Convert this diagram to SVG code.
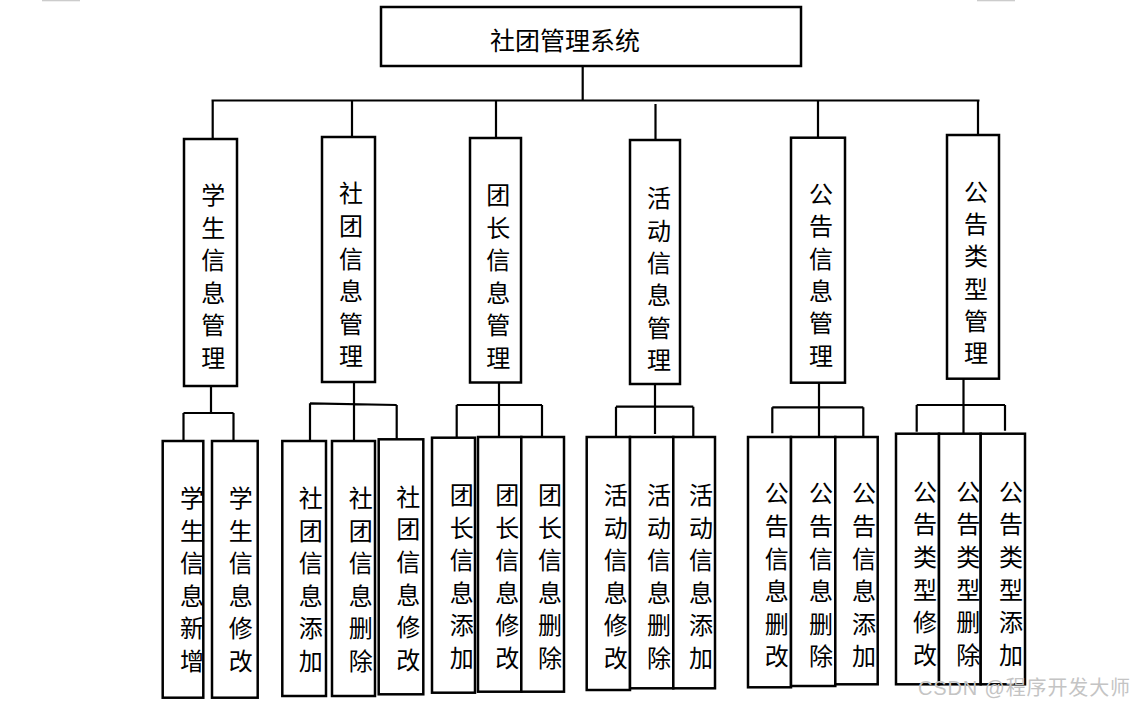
<svg xmlns="http://www.w3.org/2000/svg" width="1136" height="708" viewBox="0 0 1136 708">
<style>
.box{fill:#fff;stroke:#000;stroke-width:2.5}
.ln{fill:none;stroke:#000;stroke-width:2.2}
.t{font-family:"Noto Sans CJK SC","Noto Sans CJK JP",sans-serif;font-size:24px;fill:#000;text-anchor:middle}
.wm{font-family:"Liberation Sans","Noto Sans CJK SC",sans-serif;font-size:20px;fill:#c4c4c4}
</style>
<rect x="0" y="0" width="1136" height="708" fill="#fff"/>
<rect x="42" y="0" width="38" height="1.3" fill="#cccccc"/>
<rect x="977" y="0" width="38" height="1.3" fill="#cccccc"/>
<g id="connectors">
<path class="ln" d="M582.7 66 V101 M211.5 100.5 H979.5 M212.7 100.5 V139 M352 100.5 V137 M496 100.5 V138 M655.5 104 V140 M818 100.5 V138 M978 100.5 V135"/>
<path class="ln" d="M211 386 V413 M183.5 413 H233.5 M183.5 413 V441 M233.5 413 V441"/>
<path class="ln" d="M354 382 V441 M310 403.3 L396.7 405 M310 403.3 V441 M396.7 405 V439.3"/>
<path class="ln" d="M499 382 V437 M456.7 405 H542 M456.7 405 V437.7 M542 405 V437"/>
<path class="ln" d="M655 384 V434 M616 406.7 H693.3 M616 406.7 V437 M693.3 406.7 V437"/>
<path class="ln" d="M819 382.5 V437 M772.3 407.3 H863.3 M772.3 407.3 V433.3 M863.3 407.3 V437"/>
<path class="ln" d="M963.5 379 V434 M916.7 405 H1005 M916.7 405 V431.7 M1005 405 V430.7"/>
</g>
<g id="root"><rect class="box" x="381" y="7" width="420" height="59"/><text class="t" x="565" y="50" style="font-size:25px">社团管理系统</text></g>
<g id="m1"><rect class="box" x="184" y="139" width="53" height="247"/><text class="t" x="213.3"><tspan x="213.3" y="204">学</tspan><tspan x="213.3" dy="32.6">生</tspan><tspan x="213.3" dy="32.6">信</tspan><tspan x="213.3" dy="32.6">息</tspan><tspan x="213.3" dy="32.6">管</tspan><tspan x="213.3" dy="32.6">理</tspan></text></g>
<g id="m2"><rect class="box" x="322" y="137" width="53" height="245"/><text class="t"><tspan x="351" y="202.3">社</tspan><tspan x="351" dy="32.6">团</tspan><tspan x="351" dy="32.6">信</tspan><tspan x="351" dy="32.6">息</tspan><tspan x="351" dy="32.6">管</tspan><tspan x="351" dy="32.6">理</tspan></text></g>
<g id="m3"><rect class="box" x="470" y="138" width="51" height="244.5"/><text class="t"><tspan x="498.3" y="204">团</tspan><tspan x="498.3" dy="32.6">长</tspan><tspan x="498.3" dy="32.6">信</tspan><tspan x="498.3" dy="32.6">息</tspan><tspan x="498.3" dy="32.6">管</tspan><tspan x="498.3" dy="32.6">理</tspan></text></g>
<g id="m4"><rect class="box" x="630" y="140" width="50" height="244"/><text class="t"><tspan x="659" y="207.3">活</tspan><tspan x="659" dy="32.3">动</tspan><tspan x="659" dy="32.3">信</tspan><tspan x="659" dy="32.3">息</tspan><tspan x="659" dy="32.3">管</tspan><tspan x="659" dy="32.3">理</tspan></text></g>
<g id="m5"><rect class="box" x="791" y="137.7" width="54" height="245"/><text class="t"><tspan x="821" y="203">公</tspan><tspan x="821" dy="32.3">告</tspan><tspan x="821" dy="32.3">信</tspan><tspan x="821" dy="32.3">息</tspan><tspan x="821" dy="32.3">管</tspan><tspan x="821" dy="32.3">理</tspan></text></g>
<g id="m6"><rect class="box" x="947" y="135" width="52" height="243.7"/><text class="t"><tspan x="976" y="200.7">公</tspan><tspan x="976" dy="32.3">告</tspan><tspan x="976" dy="32.3">类</tspan><tspan x="976" dy="32.3">型</tspan><tspan x="976" dy="32.3">管</tspan><tspan x="976" dy="32.3">理</tspan></text></g>
<g id="a1"><rect class="box" x="162.7" y="441" width="40.6" height="256.7"/><text class="t"><tspan x="192" y="507">学</tspan><tspan x="192" dy="32.6">生</tspan><tspan x="192" dy="32.6">信</tspan><tspan x="192" dy="32.6">息</tspan><tspan x="192" dy="32.6">新</tspan><tspan x="192" dy="32.6">增</tspan></text></g>
<g id="a2"><rect class="box" x="212" y="441" width="45.7" height="256.7"/><text class="t"><tspan x="240.7" y="507">学</tspan><tspan x="240.7" dy="32.6">生</tspan><tspan x="240.7" dy="32.6">信</tspan><tspan x="240.7" dy="32.6">息</tspan><tspan x="240.7" dy="32.6">修</tspan><tspan x="240.7" dy="32.6">改</tspan></text></g>
<g id="b1"><rect class="box" x="282.3" y="441" width="43.7" height="255"/><text class="t"><tspan x="310.7" y="507">社</tspan><tspan x="310.7" dy="32.6">团</tspan><tspan x="310.7" dy="32.6">信</tspan><tspan x="310.7" dy="32.6">息</tspan><tspan x="310.7" dy="32.6">添</tspan><tspan x="310.7" dy="32.6">加</tspan></text></g>
<g id="b2"><rect class="box" x="332" y="441" width="43" height="255"/><text class="t"><tspan x="360.7" y="507">社</tspan><tspan x="360.7" dy="32.6">团</tspan><tspan x="360.7" dy="32.6">信</tspan><tspan x="360.7" dy="32.6">息</tspan><tspan x="360.7" dy="32.6">删</tspan><tspan x="360.7" dy="32.6">除</tspan></text></g>
<g id="b3"><rect class="box" x="378.7" y="439.3" width="44.6" height="255"/><text class="t"><tspan x="408.3" y="505.7">社</tspan><tspan x="408.3" dy="32.6">团</tspan><tspan x="408.3" dy="32.6">信</tspan><tspan x="408.3" dy="32.6">息</tspan><tspan x="408.3" dy="32.6">修</tspan><tspan x="408.3" dy="32.6">改</tspan></text></g>
<g id="c1"><rect class="box" x="432" y="437.7" width="43" height="255"/><text class="t"><tspan x="461.7" y="504">团</tspan><tspan x="461.7" dy="32.6">长</tspan><tspan x="461.7" dy="32.6">信</tspan><tspan x="461.7" dy="32.6">息</tspan><tspan x="461.7" dy="32.6">添</tspan><tspan x="461.7" dy="32.6">加</tspan></text></g>
<g id="c2"><rect class="box" x="478" y="437" width="43.3" height="254.7"/><text class="t"><tspan x="507.3" y="504">团</tspan><tspan x="507.3" dy="32.6">长</tspan><tspan x="507.3" dy="32.6">信</tspan><tspan x="507.3" dy="32.6">息</tspan><tspan x="507.3" dy="32.6">修</tspan><tspan x="507.3" dy="32.6">改</tspan></text></g>
<g id="c3"><rect class="box" x="521.3" y="437" width="42.7" height="254.7"/><text class="t"><tspan x="550" y="504">团</tspan><tspan x="550" dy="32.6">长</tspan><tspan x="550" dy="32.6">信</tspan><tspan x="550" dy="32.6">息</tspan><tspan x="550" dy="32.6">删</tspan><tspan x="550" dy="32.6">除</tspan></text></g>
<g id="d1"><rect class="box" x="586.7" y="437" width="43.3" height="253"/><text class="t"><tspan x="615.7" y="504">活</tspan><tspan x="615.7" dy="32.6">动</tspan><tspan x="615.7" dy="32.6">信</tspan><tspan x="615.7" dy="32.6">息</tspan><tspan x="615.7" dy="32.6">修</tspan><tspan x="615.7" dy="32.6">改</tspan></text></g>
<g id="d2"><rect class="box" x="630" y="437" width="43.3" height="251.3"/><text class="t"><tspan x="659" y="504">活</tspan><tspan x="659" dy="32.6">动</tspan><tspan x="659" dy="32.6">信</tspan><tspan x="659" dy="32.6">息</tspan><tspan x="659" dy="32.6">删</tspan><tspan x="659" dy="32.6">除</tspan></text></g>
<g id="d3"><rect class="box" x="673.3" y="437" width="41.7" height="251.3"/><text class="t"><tspan x="701" y="504">活</tspan><tspan x="701" dy="32.6">动</tspan><tspan x="701" dy="32.6">信</tspan><tspan x="701" dy="32.6">息</tspan><tspan x="701" dy="32.6">添</tspan><tspan x="701" dy="32.6">加</tspan></text></g>
<g id="e1"><rect class="box" x="748" y="437" width="43" height="250.3"/><text class="t"><tspan x="776.7" y="502.3">公</tspan><tspan x="776.7" dy="32.6">告</tspan><tspan x="776.7" dy="32.6">信</tspan><tspan x="776.7" dy="32.6">息</tspan><tspan x="776.7" dy="32.6">删</tspan><tspan x="776.7" dy="32.6">改</tspan></text></g>
<g id="e2"><rect class="box" x="791" y="437" width="44.3" height="249"/><text class="t"><tspan x="821" y="502.3">公</tspan><tspan x="821" dy="32.6">告</tspan><tspan x="821" dy="32.6">信</tspan><tspan x="821" dy="32.6">息</tspan><tspan x="821" dy="32.6">删</tspan><tspan x="821" dy="32.6">除</tspan></text></g>
<g id="e3"><rect class="box" x="835.3" y="437" width="42.4" height="247.3"/><text class="t"><tspan x="864" y="502.3">公</tspan><tspan x="864" dy="32.6">告</tspan><tspan x="864" dy="32.6">信</tspan><tspan x="864" dy="32.6">息</tspan><tspan x="864" dy="32.6">添</tspan><tspan x="864" dy="32.6">加</tspan></text></g>
<g id="f1"><rect class="box" x="896" y="433.7" width="43" height="250.6"/><text class="t"><tspan x="925" y="500.7">公</tspan><tspan x="925" dy="32.6">告</tspan><tspan x="925" dy="32.6">类</tspan><tspan x="925" dy="32.6">型</tspan><tspan x="925" dy="32.6">修</tspan><tspan x="925" dy="32.6">改</tspan></text></g>
<g id="f2"><rect class="box" x="939" y="433.7" width="41.7" height="250.6"/><text class="t"><tspan x="968.3" y="500.7">公</tspan><tspan x="968.3" dy="32.6">告</tspan><tspan x="968.3" dy="32.6">类</tspan><tspan x="968.3" dy="32.6">型</tspan><tspan x="968.3" dy="32.6">删</tspan><tspan x="968.3" dy="32.6">除</tspan></text></g>
<g id="f3"><rect class="box" x="980.7" y="433.7" width="44.3" height="250.6"/><text class="t"><tspan x="1011" y="500.7">公</tspan><tspan x="1011" dy="32.6">告</tspan><tspan x="1011" dy="32.6">类</tspan><tspan x="1011" dy="32.6">型</tspan><tspan x="1011" dy="32.6">添</tspan><tspan x="1011" dy="32.6">加</tspan></text></g>
<text class="wm" x="918" y="695" textLength="212">CSDN @程序开发大师</text>
</svg>
